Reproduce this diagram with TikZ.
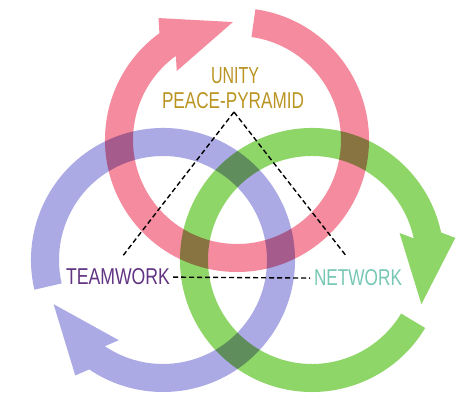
\documentclass[tikz,border=0pt]{standalone}
\usepackage{fontspec}
\setmainfont{Liberation Sans}
\usepackage{graphicx}
\usetikzlibrary{calc}
\definecolor{rpink}{RGB}{245,139,158}
\definecolor{rlav}{RGB}{172,170,228}
\definecolor{rgreen}{RGB}{142,214,104}
\definecolor{tgold}{RGB}{186,148,32}
\definecolor{tpurple}{RGB}{98,52,132}
\definecolor{tteal}{RGB}{118,200,180}
\tikzset{
  lbl/.style={anchor=base west, inner sep=0pt, outer sep=0pt},
  dashln/.style={black, line width=1.4pt, dash pattern=on 5pt off 3pt}
}
% #1 name prefix, #2 colour, #3 centre, #4 tail angle, #5 head base angle, #6 tip angle
\newcommand\ringarrow[6]{%
  \coordinate (#1c) at #3;
  \coordinate (#1m) at ($(#1c)+(#5:118)$);
  \coordinate (#1t) at ($(#1c)+(#6:118)$);
  \coordinate (#1o) at ($(#1m)!28pt!90:(#1t)$);
  \coordinate (#1i) at ($(#1m)!28pt!-90:(#1t)$);
  \fill[#2] ($(#1c)+(#4:132)$) arc[start angle=#4, end angle=#5, radius=132]
     -- (#1o) -- (#1t) -- (#1i) -- ($(#1c)+(#5:104)$)
     arc[start angle=#5, end angle=#4, radius=104] -- cycle;
}
\begin{document}
\begin{tikzpicture}[x=1pt, y=1pt]
\useasboundingbox[fill=white] (0,0) rectangle (474,414);
\begin{scope}[blend group=multiply]
  \ringarrow{p}{rpink}{(237,274)}{82}{-234}{-268}
  \ringarrow{l}{rlav}{(163,154)}{193}{-124}{-158}
  \ringarrow{g}{rgreen}{(312,154)}{-31}{-348}{-382}
\end{scope}
% texts
\node[lbl, text=tgold] (unity) at (211,330) {\resizebox{48pt}{16pt}{UNITY}};
\node[lbl, text=tgold] (peace) at (162,305) {\resizebox{142pt}{16pt}{PEACE-PYRAMID}};
\node[lbl, text=tpurple] (team) at (66,129) {\resizebox{104pt}{16pt}{TEAMWORK}};
\node[lbl, text=tteal] (net) at (314,128) {\resizebox{88pt}{16pt}{NETWORK}};
% dashed pyramid
\coordinate (apex) at (234,302);
\coordinate (lft) at (122,157);
\coordinate (rgt) at (347,157);
\draw[dashln] (apex) -- (lft);
\draw[dashln] (apex) -- (rgt);
\draw[dashln, shorten <=3pt, shorten >=4pt] (team.east) -- (net.west);
\end{tikzpicture}
\end{document}
